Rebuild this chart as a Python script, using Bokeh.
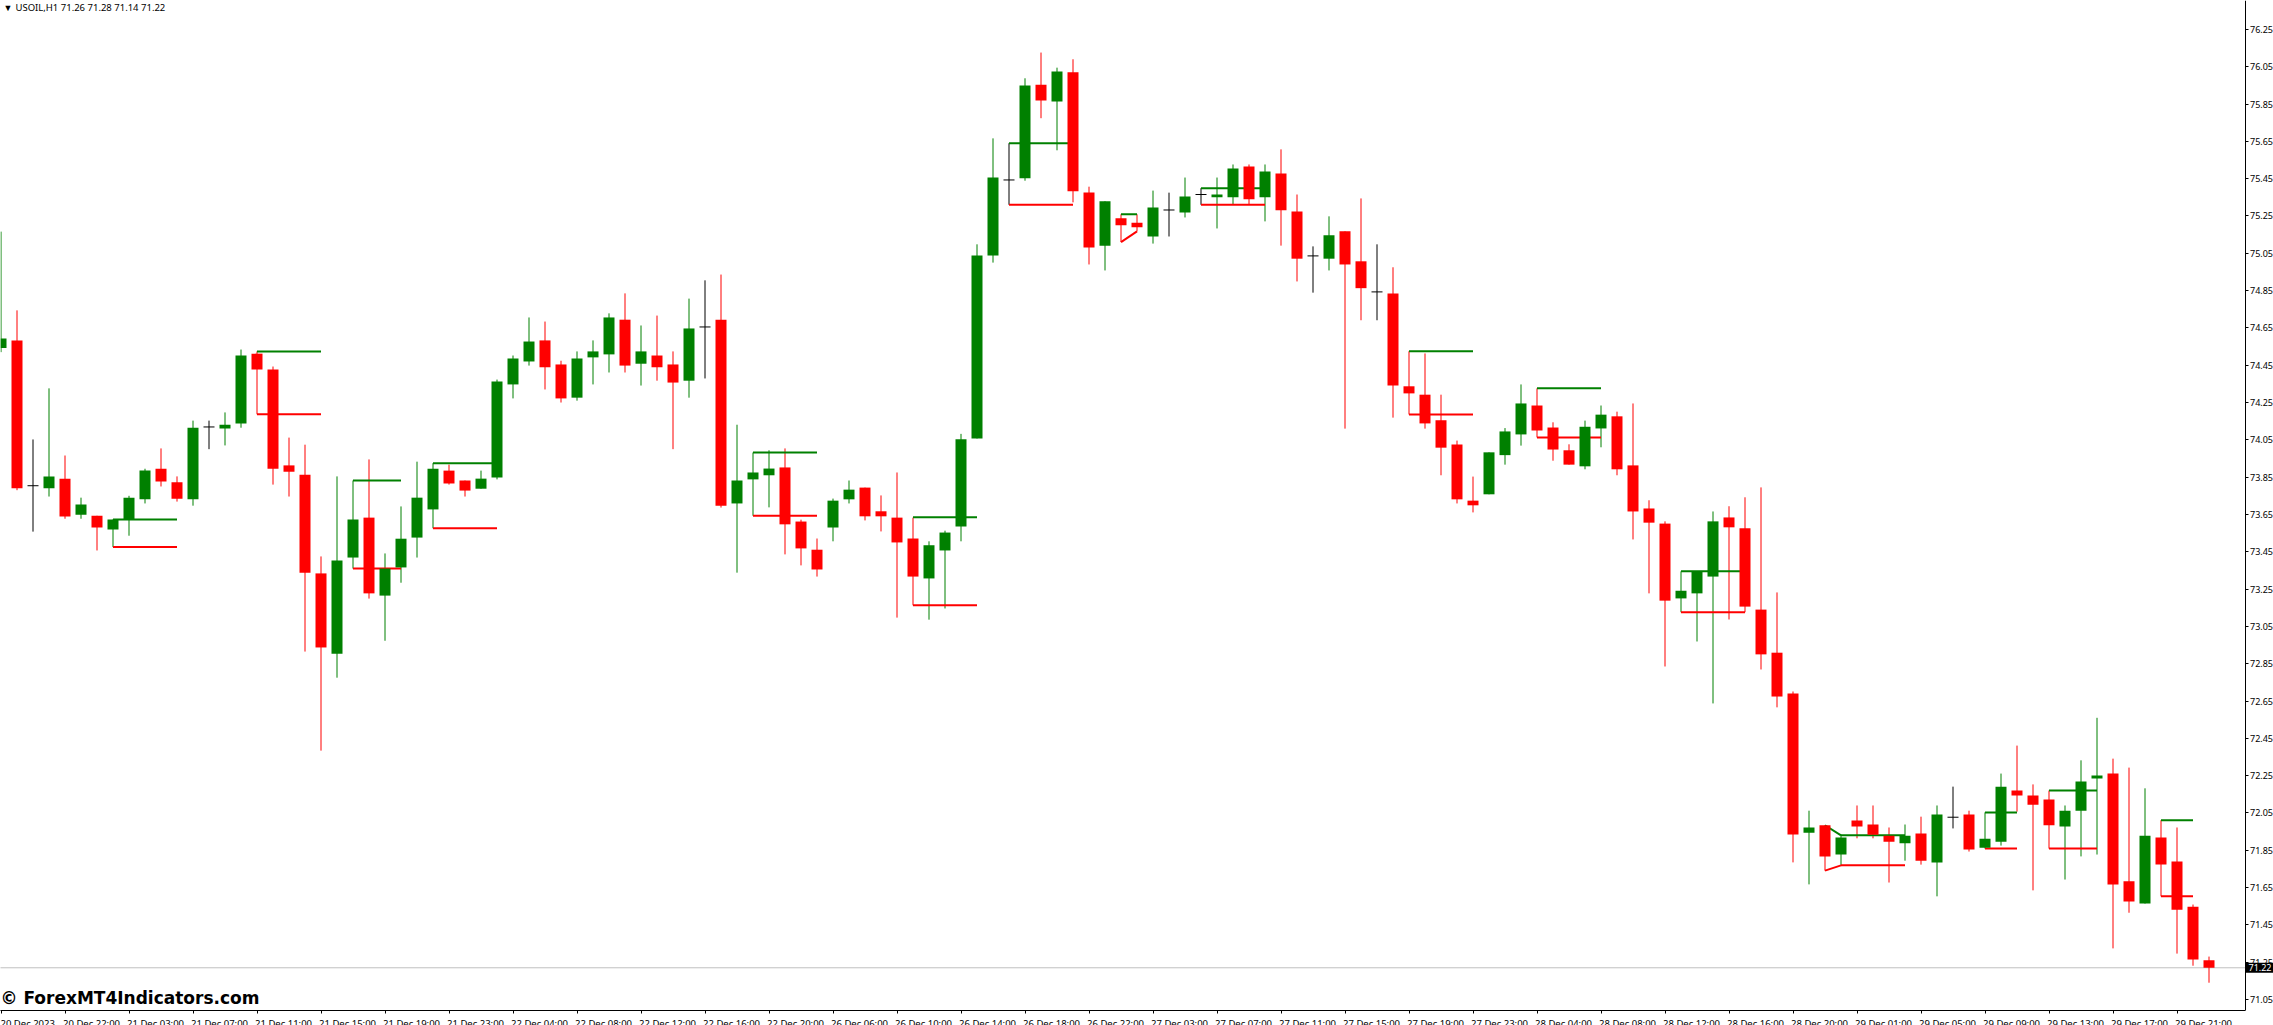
from bokeh.plotting import figure
from bokeh.models import FixedTicker, Label, Range1d, BoxAnnotation
from bokeh.embed import file_html
from bokeh.resources import INLINE

opens = [74.542,74.583,73.804,73.790,73.842,73.649,73.643,73.570,73.623,73.731,
         73.895,73.822,73.731,74.119,74.111,74.137,74.512,74.427,73.913,73.863,
         73.334,72.903,73.419,73.633,73.215,73.366,73.526,73.677,73.885,73.832,
         73.788,73.848,74.347,74.470,74.583,74.454,74.276,74.492,74.508,74.694,
         74.458,74.502,74.454,74.367,74.655,74.694,73.709,73.838,73.860,73.902,
         73.612,73.461,73.580,73.731,73.794,73.667,73.633,73.521,73.307,73.457,
         73.586,74.057,75.038,75.443,75.452,75.954,75.863,76.020,75.376,75.091,
         75.238,75.214,75.140,75.282,75.269,75.365,75.350,75.350,75.515,75.350,
         75.477,75.274,75.036,75.021,75.168,75.007,74.843,74.835,74.337,74.292,
         74.155,74.025,73.724,73.758,73.968,74.079,74.234,74.116,73.994,73.908,
         74.111,74.176,73.913,73.682,73.601,73.200,73.227,73.317,73.634,73.576,
         73.140,72.909,72.690,71.944,71.984,71.827,72.009,71.988,71.928,71.887,
         71.940,71.785,72.027,72.041,71.864,71.896,72.170,72.143,72.122,71.977,
         72.062,72.235,72.261,71.684,71.564,71.919,71.790,71.547,71.26]
highs = [75.166,74.744,74.052,74.326,73.966,73.740,73.643,73.623,73.750,73.895,
         74.004,73.854,74.153,74.153,74.197,74.534,74.524,74.443,74.062,74.024,
         73.425,73.854,73.832,73.945,73.441,73.693,73.933,73.925,73.917,73.832,
         73.885,74.373,74.502,74.706,74.684,74.474,74.524,74.583,74.728,74.835,
         74.663,74.716,74.524,74.807,74.905,74.936,74.131,73.982,73.994,74.004,
         73.622,73.521,73.735,73.832,73.794,73.752,73.875,73.633,73.506,73.563,
         74.082,75.098,75.666,75.640,75.988,76.126,76.045,76.090,75.407,75.329,
         75.259,75.259,75.386,75.375,75.456,75.399,75.456,75.526,75.526,75.526,
         75.607,75.365,75.087,75.248,75.168,75.344,75.098,74.975,74.525,74.513,
         74.292,74.046,73.853,73.983,74.113,74.347,74.326,74.144,74.026,74.153,
         74.234,74.201,74.245,73.726,73.613,73.345,73.345,73.666,73.694,73.742,
         73.795,73.232,72.701,72.062,71.984,71.930,72.090,72.090,71.972,71.988,
         72.030,72.090,72.191,72.062,72.053,72.261,72.411,72.203,72.170,72.090,
         72.332,72.560,72.341,72.293,72.182,72.011,71.972,71.559,71.28]
lows = [74.520,73.780,73.558,73.746,73.627,73.627,73.457,73.475,73.536,73.709,
        73.800,73.719,73.697,74.000,74.020,74.115,74.187,73.810,73.746,72.915,
        72.384,72.775,73.360,73.199,72.973,73.284,73.419,73.576,73.810,73.746,
        73.788,73.838,74.272,74.448,74.320,74.250,74.260,74.347,74.411,74.411,
        74.341,74.367,74.000,74.276,74.379,73.687,73.338,73.643,73.688,73.436,
        73.377,73.317,73.506,73.709,73.618,73.559,73.097,73.163,73.086,73.146,
        73.506,74.057,75.000,75.310,75.439,75.774,75.602,75.323,74.990,74.958,
        75.110,75.167,75.102,75.140,75.242,75.310,75.183,75.310,75.310,75.221,
        75.091,74.899,74.839,74.958,74.110,74.691,74.691,74.169,74.186,74.110,
        73.860,73.709,73.661,73.758,73.917,74.019,74.063,73.938,73.917,73.892,
        74.010,73.860,73.516,73.227,72.835,73.126,72.969,72.637,73.087,73.126,
        72.819,72.616,71.785,71.667,71.741,71.769,71.914,71.914,71.677,71.794,
        71.773,71.603,71.967,71.843,71.859,71.875,72.057,71.635,71.859,71.693,
        71.817,71.827,71.324,71.515,71.564,71.603,71.296,71.231,71.14]
closes = [74.593,73.790,73.804,73.854,73.639,73.703,73.580,73.623,73.740,73.885,
          73.826,73.734,74.115,74.119,74.131,74.502,74.427,73.895,73.879,73.338,
          72.937,73.403,73.623,73.227,73.360,73.520,73.740,73.895,73.816,73.778,
          73.842,74.363,74.486,74.577,74.439,74.272,74.486,74.524,74.706,74.448,
          74.524,74.439,74.357,74.647,74.655,73.697,73.832,73.875,73.896,73.597,
          73.468,73.355,73.724,73.783,73.640,73.640,73.500,73.317,73.485,73.553,
          74.053,75.038,75.456,75.443,75.950,75.869,76.024,75.382,75.081,75.329,
          75.200,75.189,75.295,75.282,75.354,75.365,75.365,75.505,75.339,75.488,
          75.280,75.021,75.036,75.147,74.990,74.863,74.843,74.341,74.299,74.138,
          74.008,73.731,73.699,73.983,74.095,74.245,74.100,73.998,73.917,74.120,
          74.185,73.892,73.666,73.606,73.188,73.241,73.345,73.613,73.581,73.156,
          72.900,72.674,71.935,71.972,71.817,71.919,71.977,71.933,71.896,71.928,
          71.794,72.041,72.027,71.854,71.912,72.191,72.143,72.094,71.984,72.062,
          72.219,72.251,71.667,71.575,71.928,71.773,71.531,71.264,71.22]

# Indicator levels: bar where each starts and ends, and the price at both ends
res_x0 = [7,16,22,27,47,57,63,70,75,88,96,105,114,115,124,128,135]
res_x1 = [11,20,25,31,51,61,67,71,79,92,100,109,115,119,126,131,137]
res_p0 = [73.623,74.524,73.832,73.925,73.982,73.635,75.640,75.259,75.399,74.525,74.326,73.345,71.984,71.930,72.053,72.170,72.011]
res_p1 = [73.623,74.524,73.832,73.925,73.982,73.635,75.640,75.259,75.399,74.525,74.326,73.345,71.930,71.930,72.053,72.170,72.011]
sup_x0 = [7,16,22,27,47,57,63,70,75,88,96,105,114,115,124,128,135]
sup_x1 = [11,20,25,31,51,61,67,71,79,92,100,109,115,119,126,131,137]
sup_p0 = [73.475,74.187,73.360,73.576,73.643,73.163,75.310,75.110,75.310,74.186,74.063,73.126,71.741,71.769,71.859,71.859,71.603]
sup_p1 = [73.475,74.187,73.360,73.576,73.643,73.163,75.310,75.167,75.310,74.186,74.063,73.126,71.769,71.769,71.859,71.859,71.603]

date_labels = ["20 Dec 2023","20 Dec 22:00","21 Dec 03:00","21 Dec 07:00","21 Dec 11:00","21 Dec 15:00",
               "21 Dec 19:00","21 Dec 23:00","22 Dec 04:00","22 Dec 08:00","22 Dec 12:00","22 Dec 16:00",
               "22 Dec 20:00","26 Dec 06:00","26 Dec 10:00","26 Dec 14:00","26 Dec 18:00","26 Dec 22:00",
               "27 Dec 03:00","27 Dec 07:00","27 Dec 11:00","27 Dec 15:00","27 Dec 19:00","27 Dec 23:00",
               "28 Dec 04:00","28 Dec 08:00","28 Dec 12:00","28 Dec 16:00","28 Dec 20:00","29 Dec 01:00",
               "29 Dec 05:00","29 Dec 09:00","29 Dec 13:00","29 Dec 17:00","29 Dec 21:00"]
price_ticks = [71.05,71.25,71.45,71.65,71.85,72.05,72.25,72.45,72.65,72.85,73.05,73.25,73.45,73.65,
               73.85,74.05,74.25,74.45,74.65,74.85,75.05,75.25,75.45,75.65,75.85,76.05,76.25]
last_price = 71.22
header = "USOIL,H1  71.26 71.28 71.14 71.22"
watermark = "\u00a9 ForexMT4Indicators.com"

GREEN, RED = "#008000", "#ff0000"
FONT = "Noto Sans"
AXIS_BAR = 140.25  # the price scale sits just after the last bars

p = figure(width=2273, height=1025, output_backend="svg", toolbar_location=None,
           x_range=Range1d(-0.03125, 142.03125), y_range=Range1d(70.991, 76.405),
           y_axis_location="right", background_fill_color="white", outline_line_color=None,
           min_border_left=0, min_border_top=0, min_border_right=0, min_border_bottom=15)
p.frame_width = 2273
p.frame_height = 1010
p.grid.visible = False

idx = list(range(len(opens)))
color = [GREEN if c > o else RED if c < o else "#000000" for o, c in zip(opens, closes)]

# price line
p.line([idx[0] - 1, AXIS_BAR], [last_price, last_price], line_color="#c0c0c0", line_width=1)
# wicks
p.segment(idx, highs, idx, lows, line_color=color, line_width=1)
# indicator levels
p.segment(res_x0, res_p0, res_x1, res_p1, line_color=GREEN, line_width=2)
p.segment(sup_x0, sup_p0, sup_x1, sup_p1, line_color=RED, line_width=2)
# bodies
body = [i for i in idx if opens[i] != closes[i]]
p.vbar([i for i in body], width=11 / 16,
       top=[max(opens[i], closes[i]) for i in body],
       bottom=[min(opens[i], closes[i]) for i in body],
       fill_color=[color[i] for i in body], line_color=None)
doji = [i for i in idx if opens[i] == closes[i]]
p.segment([i - 5.5 / 16 for i in doji], [opens[i] for i in doji],
          [i + 5.5 / 16 for i in doji], [opens[i] for i in doji],
          line_color="#000000", line_width=1)

# y axis
ya = p.yaxis[0]
ya.fixed_location = AXIS_BAR
ya.ticker = FixedTicker(ticks=price_ticks)
ya.major_label_overrides = {t: f"{t:.2f}" for t in price_ticks}
ya.major_tick_in = 0
ya.major_tick_out = 3
ya.minor_tick_line_color = None
ya.axis_line_color = "#000000"
ya.major_label_standoff = 2
ya.major_label_text_font = FONT
ya.major_label_text_font_size = "9px"
ya.major_label_text_color = "#000000"

# x axis: ticks on the bar, label starting at the tick
tick_bars = [4 * k for k in range(len(date_labels))]
lab_pos = [b + (1.5 if k == 0 else 1.66) for k, b in enumerate(tick_bars)]
xa = p.xaxis[0]
xa.bounds = (-1, AXIS_BAR)
xa.ticker = FixedTicker(ticks=lab_pos, minor_ticks=tick_bars)
xa.major_label_overrides = dict(zip(lab_pos, date_labels))
xa.major_tick_line_color = None
xa.major_tick_in = 0
xa.major_tick_out = 0
xa.minor_tick_in = 0
xa.minor_tick_out = 3
xa.axis_line_color = "#000000"
xa.major_label_standoff = 3
xa.major_label_text_font = FONT
xa.major_label_text_font_size = "9.5px"
xa.major_label_text_color = "#000000"

# current price tag
p.add_layout(BoxAnnotation(left=2245, right=2273, left_units="screen", right_units="screen",
                           bottom=last_price - 0.027, top=last_price + 0.027,
                           fill_color="#000000", fill_alpha=1.0, line_color=None, level="overlay"))
p.add_layout(Label(x=2248, y=last_price, x_units="screen", y_units="data", text=f"{last_price:.2f}",
                   text_color="#ffffff", text_font=FONT, text_font_size="9px", text_baseline="middle",
                   text_align="left", x_offset=0, y_offset=0, padding=0, level="overlay"))
# header
p.add_layout(Label(x=3, y=1003, x_units="screen", y_units="screen", text="\u25bc",
                   text_color="#000000", text_font=FONT, text_font_size="9px", text_baseline="middle"))
p.add_layout(Label(x=15, y=1003, x_units="screen", y_units="screen", text=header,
                   text_color="#000000", text_font=FONT, text_font_size="9.5px", text_baseline="middle"))
# watermark
p.add_layout(Label(x=0, y=13, x_units="screen", y_units="screen", text=watermark,
                   text_color="#000000", text_font="DejaVu Sans", text_font_style="bold",
                   text_font_size="17px", text_baseline="middle"))

open("out.html", "w").write(file_html(p, INLINE))
